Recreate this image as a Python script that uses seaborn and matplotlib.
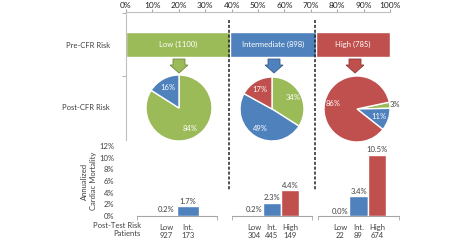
import numpy as np
import matplotlib
matplotlib.use("Agg")
import matplotlib.pyplot as plt
from matplotlib.patches import Polygon
from matplotlib.lines import Line2D
import seaborn as sns

sns.set_style("white")
plt.rcParams['font.family'] = ['Lato', 'DejaVu Sans']

# data
risk_groups = ["Low", "Intermediate", "High"]
pre_counts = [1100, 898, 785]
colors = ["#9BBB59", "#4F81BD", "#C0504D"]
edge_colors = ["#71893F", "#385D8A", "#8C3836"]

post_low = [84, 16]
post_int = [34, 49, 17]
post_high = [3, 11, 86]

post_labels = ["Low", "Int.", "High"]
mort_low = [0.2, 1.7]
mort_int = [0.2, 2.3, 4.4]
mort_high = [0.0, 3.4, 10.5]
patients_low = [927, 173]
patients_int = [304, 445, 149]
patients_high = [22, 89, 674]

W, H = 474, 243
TXT = "#404040"


def rect(x0, y0, x1, y1):
    return [x0 / W, 1 - y1 / H, (x1 - x0) / W, (y1 - y0) / H]


def fpt(x, y):
    return (x / W, 1 - y / H)


fig = plt.figure(figsize=(W / 100, H / 100), dpi=100)

# --- top stacked bar ---
ax = fig.add_axes(rect(126, 12, 390, 140))
shares = np.array(pre_counts) / sum(pre_counts)
cum = np.cumsum(shares)
for i in reversed(range(3)):
    sns.barplot(x=[cum[i]], y=["Pre-CFR Risk"], color=colors[i], width=0.4,
                orient="h", saturation=1, ax=ax)
starts = np.concatenate([[0], cum[:-1]])
for i in range(3):
    ax.text(starts[i] + shares[i] / 2, 0, f"{risk_groups[i]} ({pre_counts[i]})",
            color="white", ha="center", va="center", fontsize=5.5)
ax.set_xlim(0, 1)
ax.set_ylim(1.528, -0.52)
ticks = np.arange(0, 1.01, 0.1)
ax.set_xticks(ticks)
ax.set_xticklabels([f"{int(round(v * 100))}%" for v in ticks])
ax.xaxis.tick_top()
ax.set_yticks([0, 1])
ax.set_yticklabels(["Pre-CFR Risk", "Post-CFR Risk"])
ax.set_yticks([-0.5, 0.5], minor=True)
ax.tick_params(axis="x", which="major", top=True, length=2, color="#A6A6A6",
               labelsize=6, colors="#222222", pad=0.5)
ax.tick_params(axis="y", which="major", left=False, labelsize=5.5, labelcolor=TXT, pad=8)
ax.tick_params(axis="y", which="minor", left=True, length=3, color="#A6A6A6")
ax.set_xlabel("")
ax.set_ylabel("")
for s in ["bottom", "right"]:
    ax.spines[s].set_visible(False)
for s in ["top", "left"]:
    ax.spines[s].set_color("#BFBFBF")
    ax.spines[s].set_linewidth(0.8)

# --- pies ---
pies = [(post_low, 179, 108, 33, 90, [0.7, 0.72]),
        (post_int, 272, 109, 32, 90, [0.74, 0.69, 0.72]),
        (post_high, 357, 109, 33, 12, [1.17, 0.69, 0.76])]
for vals, cx, cy, r, start, dists in pies:
    pax = fig.add_axes(rect(cx - r, cy - r, cx + r, cy + r))
    wedges, texts, autotexts = pax.pie(vals, colors=colors[:len(vals)], startangle=start,
                                       counterclock=False, autopct="%d%%",
                                       textprops=dict(color="white", fontsize=5.5))
    for w, t, d in zip(wedges, autotexts, dists):
        ang = np.deg2rad((w.theta1 + w.theta2) / 2)
        t.set_position((d * np.cos(ang), d * np.sin(ang)))
        if d > 1:
            t.set_color(TXT)
    pax.set_xlim(-1, 1)
    pax.set_ylim(-1, 1)
    pax.set_aspect("equal")

# --- arrows ---
for cx, fc, ec in zip([179, 274, 355], colors, edge_colors):
    pts = [(cx - 6, 59), (cx + 6, 59), (cx + 6, 65), (cx + 9, 65), (cx, 73),
           (cx - 9, 65), (cx - 6, 65)]
    fig.add_artist(Polygon([fpt(x, y) for x, y in pts], closed=True,
                           transform=fig.transFigure, facecolor=fc, edgecolor=ec, lw=0.6))

# --- dashed separators ---
for x in [229, 315]:
    fig.add_artist(Line2D([x / W, x / W], [1 - 20 / H, 1 - 190 / H], transform=fig.transFigure,
                          color="#222222", lw=1.1, linestyle=(0, (2, 1.2))))

# --- mortality bars ---
groups = [(mort_low, patients_low, 137, 217, 22, 166),
          (mort_int, patients_int, 232, 312, 18, 254),
          (mort_high, patients_high, 318, 399, 18.5, 340)]
for k, (mort, pats, x0, x1, unit, first) in enumerate(groups):
    n = len(mort)
    bax = fig.add_axes(rect(x0, 146, x1, 216))
    labs = post_labels[:n]
    sns.barplot(x=labs, y=mort, hue=labs, palette=colors[:n], legend=False,
                width=1.0, saturation=1, ax=bax)
    for c in bax.containers:
        bax.bar_label(c, fmt="%.1f%%", fontsize=5.5, color=TXT, padding=1)
    lo = -(first - x0) / unit
    hi = lo + (x1 - x0) / unit
    bax.set_xlim(lo, hi)
    bax.set_ylim(0, 12)
    bax.set_xticks(range(n))
    bax.set_xticklabels([f"{l}\n{p}" for l, p in zip(labs, pats)], fontsize=5.5,
                        color=TXT, linespacing=1.3)
    bax.set_xticks([lo, hi], minor=True)
    bax.tick_params(axis="x", which="major", bottom=False, pad=2)
    bax.tick_params(axis="x", which="minor", bottom=True, length=3, color="#A6A6A6")
    bax.set_xlabel("")
    bax.set_ylabel("")
    for s in ["top", "right", "left"]:
        bax.spines[s].set_visible(False)
    bax.spines["bottom"].set_color("#A6A6A6")
    bax.spines["bottom"].set_linewidth(0.8)
    if k == 0:
        bax.set_yticks(range(0, 13, 2))
        bax.set_yticklabels([f"{v}%" for v in range(0, 13, 2)], fontsize=5.5, color=TXT)
        bax.tick_params(axis="y", left=False, pad=13)
    else:
        bax.set_yticks([])

fig.text(89 / W, 1 - 181 / H, "Annualized\nCardiac Mortality", rotation=90,
         ha="center", va="center", fontsize=5.5, color=TXT, multialignment="center")
fig.text(141 / W, 1 - 225 / H, "Post-Test Risk", ha="right", va="center", fontsize=5.5, color=TXT)
fig.text(141 / W, 1 - 234 / H, "Patients", ha="right", va="center", fontsize=5.5, color=TXT)

fig.savefig("out.png", dpi=100)
